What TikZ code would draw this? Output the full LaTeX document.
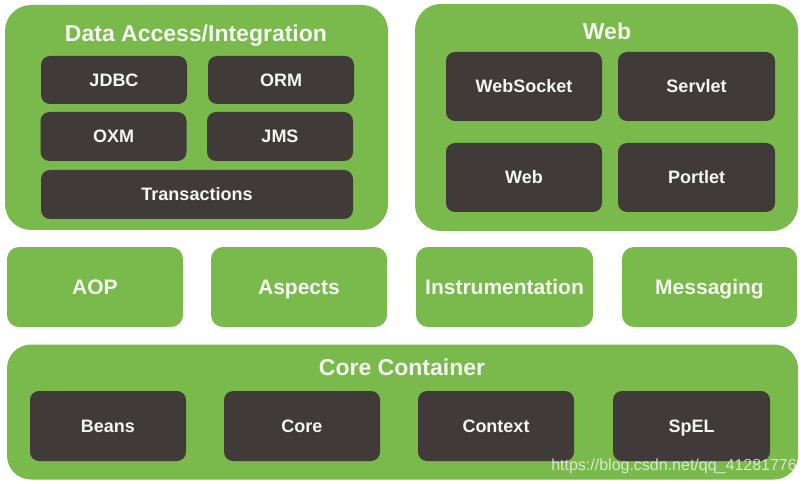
\documentclass[tikz,border=0pt]{standalone}
\usepackage{fontspec}
\setmainfont{Liberation Sans}
\definecolor{springgreen}{HTML}{7AB94C}
\definecolor{darkbox}{HTML}{403B38}
\definecolor{lighttext}{HTML}{F4F7F0}
\begin{document}
\begin{tikzpicture}[x=1pt,y=-1pt,
  bigbox/.style={fill=springgreen,draw=none,rounded corners=26pt,inner sep=0pt},
  midbox/.style={fill=springgreen,draw=none,rounded corners=12pt,inner sep=0pt,
    text=lighttext,font=\fontsize{21}{21}\selectfont\bfseries,text height=15pt,text depth=0pt},
  darkcell/.style={fill=darkbox,draw=none,rounded corners=9pt,inner sep=0pt,
    text=lighttext,font=\fontsize{18}{18}\selectfont\bfseries,text height=12.9pt,text depth=0pt},
  titletext/.style={anchor=base,inner sep=0pt,text=lighttext,font=\fontsize{23}{23}\selectfont\bfseries},
  wmark/.style={anchor=base east,inner sep=0pt,text=white,opacity=0.7,font=\fontsize{16}{16}\selectfont}
]
\useasboundingbox[fill=white] (0,0) rectangle (804,484);

% Data Access/Integration
\node[bigbox,minimum width=383pt,minimum height=225pt] (data) at (196.5,117.5) {};
\node[titletext] (datatitle) at (196,42) {Data Access/Integration};
\node[darkcell,minimum width=146pt,minimum height=48pt] (jdbc) at (114,80) {JDBC};
\node[darkcell,minimum width=146pt,minimum height=48pt] (orm) at (281,80) {ORM};
\node[darkcell,minimum width=146pt,minimum height=49pt] (oxm) at (113.5,136.5) {OXM};
\node[darkcell,minimum width=146pt,minimum height=49pt] (jms) at (280,136.5) {JMS};
\node[darkcell,minimum width=312pt,minimum height=49pt] (tx) at (197,194.5) {Transactions};

% Web
\node[bigbox,minimum width=383pt,minimum height=227pt] (web) at (606.5,117.5) {};
\node[titletext] (webtitle) at (607,40) {Web};
\node[darkcell,minimum width=156pt,minimum height=69pt] (websocket) at (524,86.5) {WebSocket};
\node[darkcell,minimum width=157pt,minimum height=69pt] (servlet) at (696.5,86.5) {Servlet};
\node[darkcell,minimum width=156pt,minimum height=69pt] (webm) at (524,177.5) {Web};
\node[darkcell,minimum width=157pt,minimum height=69pt] (portlet) at (696.5,177.5) {Portlet};

% Middle row
\node[midbox,minimum width=176pt,minimum height=80pt] (aop) at (95,287) {AOP};
\node[midbox,minimum width=176pt,minimum height=80pt] (aspects) at (299,287) {Aspects};
\node[midbox,minimum width=177pt,minimum height=80pt] (instr) at (504.5,287) {Instrumentation};
\node[midbox,minimum width=175pt,minimum height=80pt] (msg) at (709.5,287) {Messaging};

% Core Container
\node[bigbox,rounded corners=24pt,minimum width=791pt,minimum height=135pt] (core) at (402.5,412) {};
\node[titletext] (coretitle) at (402,375) {Core Container};
\node[darkcell,minimum width=156pt,minimum height=70pt] (beans) at (108,426) {Beans};
\node[darkcell,minimum width=156pt,minimum height=70pt] (corem) at (302,426) {Core};
\node[darkcell,minimum width=156pt,minimum height=70pt] (context) at (496,426) {Context};
\node[darkcell,minimum width=157pt,minimum height=70pt] (spel) at (691.5,426) {SpEL};

% watermark
\node[wmark] (wm1) at (797,470) {https://blog.csdn.net/qq\_41281776};
\end{tikzpicture}
\end{document}
